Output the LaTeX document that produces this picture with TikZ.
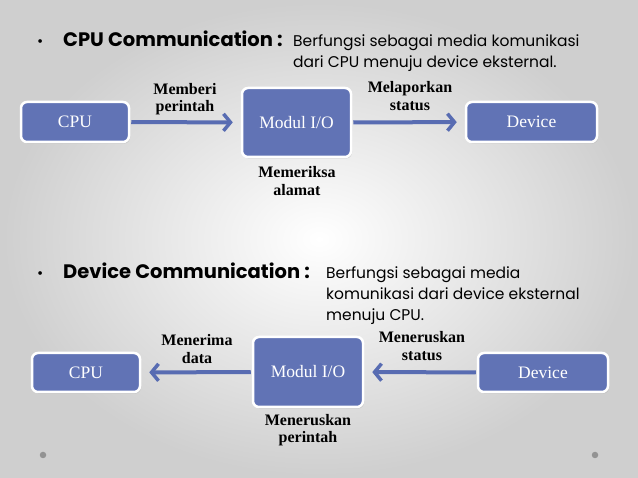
\documentclass[tikz,border=0pt]{standalone}
\usepackage{fontspec}
\setmainfont{Liberation Serif}
\newfontfamily\headfont{Poppins}
\usetikzlibrary{arrows.meta,shadows}
\definecolor{boxblue}{RGB}{97,115,181}
\definecolor{arrowblue}{RGB}{88,108,178}
\begin{document}
\begin{tikzpicture}[x=1pt,y=-1pt,
  unitbox/.style={draw=white,line width=2.5pt,fill=boxblue,rounded corners=6pt,
    text=white,font=\fontsize{17.5}{20}\selectfont,inner sep=0pt,
    drop shadow={shadow xshift=1pt,shadow yshift=-1.5pt,opacity=0.35}},
  flow/.style={draw=arrowblue,line width=4pt,
    -{Straight Barb[length=7pt,width=17pt,line width=3.5pt]},shorten >=8pt,shorten <=1pt},
  lbl/.style={font=\bfseries\fontsize{16}{17.5}\selectfont,align=center,inner sep=0pt},
  head/.style={font=\headfont\bfseries\fontsize{19.5}{22}\selectfont,anchor=base west,inner sep=0pt},
  desc/.style={font=\headfont\fontsize{15.5}{22}\selectfont,anchor=base west,inner sep=0pt},
  dot/.style={fill=gray!85,draw=none,circle,inner sep=0pt,minimum size=6.5pt}]
\useasboundingbox (0,0) rectangle (638,478);
\shade[inner color=white,outer color=gray!38] (0,0) rectangle (638,478);
% headings
\node[head,font=\headfont\fontsize{15}{18}\selectfont] (b1) at (37,47) {•};
\node[head] (h1) at (63,47) {CPU Communication :};
\node[desc] (d1a) at (293,47) {Berfungsi sebagai media komunikasi};
\node[desc] (d1b) at (293,68) {dari CPU menuju device eksternal.};
\node[head,font=\headfont\fontsize{15}{18}\selectfont] (b2) at (37,279) {•};
\node[head] (h2) at (63,279) {Device Communication :};
\node[desc] (d2a) at (326,279) {Berfungsi sebagai media};
\node[desc] (d2b) at (326,300) {komunikasi dari device eksternal};
\node[desc] (d2c) at (326,321) {menuju CPU.};
% top row
\node[unitbox,minimum width=108pt,minimum height=40pt] (cpu1) at (75,122) {CPU};
\node[unitbox,minimum width=109pt,minimum height=69pt] (mod1) at (296.5,122.5) {Modul I/O};
\node[unitbox,minimum width=131pt,minimum height=40pt] (dev1) at (531.5,122) {Device};
\draw[flow] (cpu1) -- (mod1);
\draw[flow] (mod1) -- (dev1);
\node[lbl] (l1) at (185,99) {Memberi\\perintah};
\node[lbl] (l2) at (410,96) {Melaporkan\\status};
\node[lbl] (l3) at (297,181) {Memeriksa\\alamat};
% bottom row
\node[unitbox,minimum width=108pt,minimum height=39pt] (cpu2) at (86,372.5) {CPU};
\node[unitbox,minimum width=110pt,minimum height=70pt] (mod2) at (308,372) {Modul I/O};
\node[unitbox,minimum width=130pt,minimum height=39pt] (dev2) at (543,372.5) {Device};
\draw[flow] (mod2) -- (cpu2);
\draw[flow] (dev2) -- (mod2);
\node[lbl] (l4) at (197,349) {Menerima\\data};
\node[lbl] (l5) at (422,346) {Meneruskan\\status};
\node[lbl] (l6) at (308,430) {Meneruskan\\perintah};
% corner dots
\node[dot] (p1) at (43,455) {};
\node[dot] (p2) at (595,455) {};
\end{tikzpicture}
\end{document}
